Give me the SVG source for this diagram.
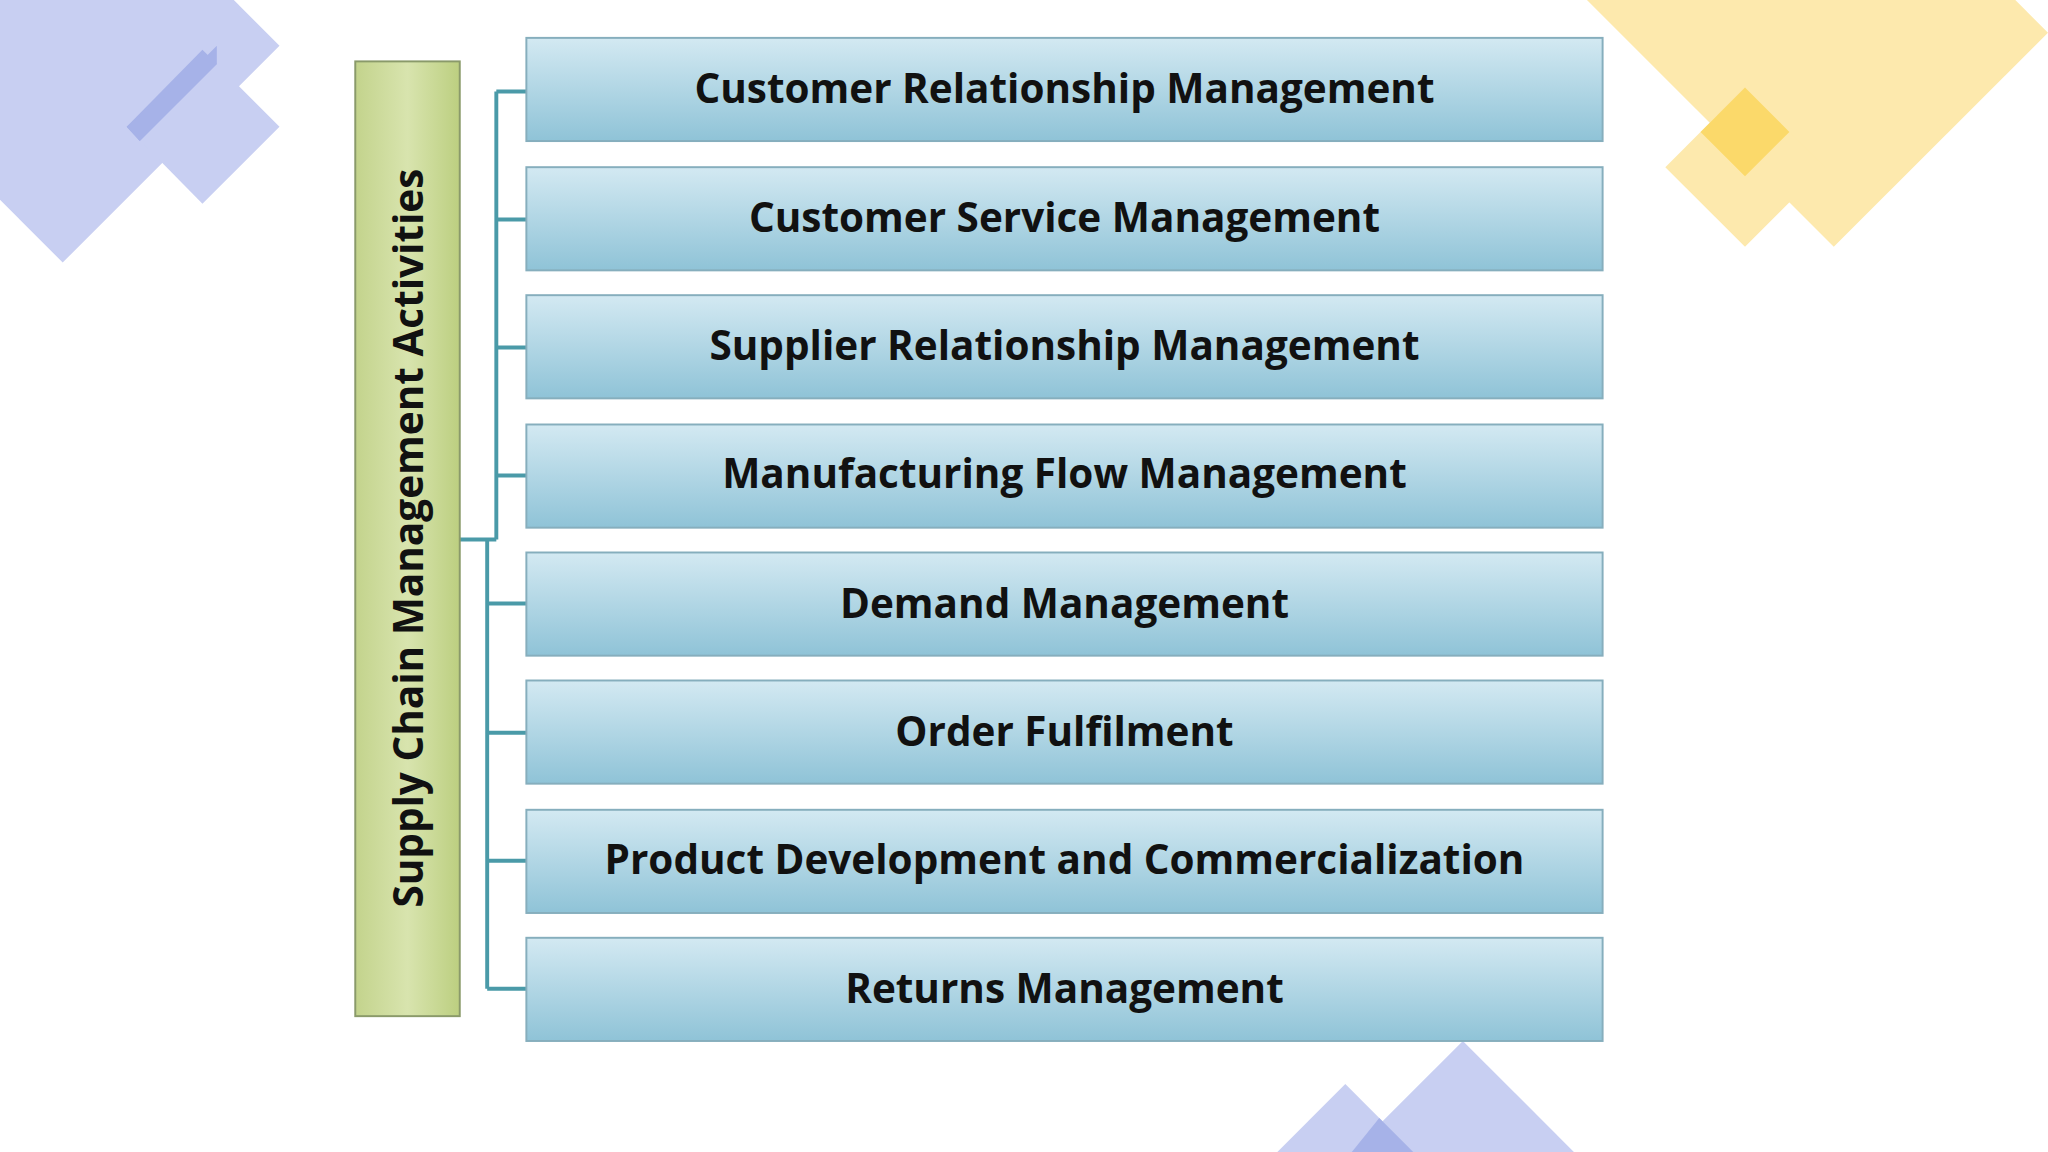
<svg xmlns="http://www.w3.org/2000/svg" width="2048" height="1152" viewBox="0 0 2048 1152">
<defs>
<linearGradient id="bg" x1="0" y1="0" x2="0" y2="1"><stop offset="0" stop-color="#d3e9f2"/><stop offset="1" stop-color="#8fc3d7"/></linearGradient>
<linearGradient id="gg" x1="0" y1="0" x2="1" y2="0"><stop offset="0" stop-color="#c3d38c"/><stop offset="0.5" stop-color="#d8e4ae"/><stop offset="1" stop-color="#bccf80"/></linearGradient>
<style>
.box{fill:url(#bg);stroke:#86aebd;stroke-width:1.5}
.t{font-family:"Open Sans","Liberation Sans",sans-serif;font-weight:bold;font-size:31px;fill:#111;text-anchor:middle;dominant-baseline:central}
.c{fill:none;stroke:#4a9aa8;stroke-width:3}
</style>
</defs>
<rect width="2048" height="1152" fill="#fff"/>
<g transform="scale(1.30612)">
<g id="deco">
<polygon points="48,201 214,35 48,-131 -118,35" fill="#c8cff2"/>
<polygon points="155,38 214,97 155,156 97,97" fill="#c8cff2"/>
<polygon points="155,38 166,49 107,108 97,97" fill="#a6b2e8"/>
<polygon points="131,70 166,35 166,49 107,108 97,97" fill="#a6b2e8"/>
<polygon points="1404,189 1568,25 1543,0 1215,0" fill="#fde9ad"/>
<polygon points="1336,67 1397,128 1336,189 1275,128" fill="#fde9ad"/>
<polygon points="1336,67 1370,101 1336,135 1302,101" fill="#fbd96a"/>
<polygon points="1030,830 1082,882 978,882" fill="#c8cff2"/>
<polygon points="1120,797 1205,882 1035,882" fill="#c8cff2"/>
<polygon points="1056,856 1082,882 1035,882" fill="#a6b2e8"/>
</g>
<g id="connectors">
<path class="c" d="M352,413 H380 M380,70 V413 M373,413 V757 M380,70 H403 M380,168 H403 M380,266 H403 M380,364 H403 M373,462 H403 M373,561 H403 M373,659 H403 M373,757 H403"/>
</g>
<g id="root"><rect x="272" y="47" width="80" height="731" fill="url(#gg)" stroke="#8a9a6a" stroke-width="1.5"/>
<text class="t" transform="translate(312,412) rotate(-90)" font-size="32">Supply Chain Management Activities</text></g>
<g id="n1"><rect class="box" x="403" y="29" width="824" height="79"/><text class="t" x="815" y="67">Customer Relationship Management</text></g>
<g id="n2"><rect class="box" x="403" y="128" width="824" height="79"/><text class="t" x="815" y="166">Customer Service Management</text></g>
<g id="n3"><rect class="box" x="403" y="226" width="824" height="79"/><text class="t" x="815" y="264">Supplier Relationship Management</text></g>
<g id="n4"><rect class="box" x="403" y="325" width="824" height="79"/><text class="t" x="815" y="362">Manufacturing Flow Management</text></g>
<g id="n5"><rect class="box" x="403" y="423" width="824" height="79"/><text class="t" x="815" y="461">Demand Management</text></g>
<g id="n6"><rect class="box" x="403" y="521" width="824" height="79"/><text class="t" x="815" y="559">Order Fulfilment</text></g>
<g id="n7"><rect class="box" x="403" y="620" width="824" height="79"/><text class="t" x="815" y="657">Product Development and Commercialization</text></g>
<g id="n8"><rect class="box" x="403" y="718" width="824" height="79"/><text class="t" x="815" y="756">Returns Management</text></g>
</g>
</svg>
